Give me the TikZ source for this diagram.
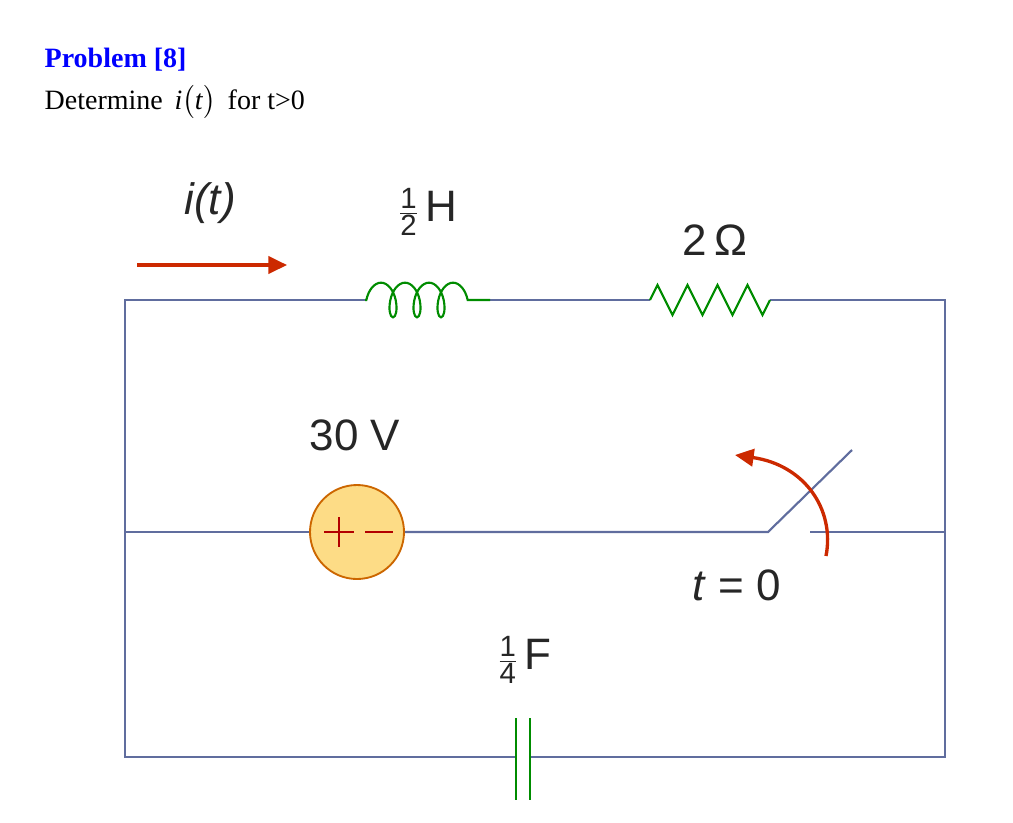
\documentclass[tikz,border=0pt]{standalone}
\usepackage{amsmath}
\usepackage{fontspec}
\setmainfont{Liberation Serif}
\setsansfont{Liberation Sans}
\usetikzlibrary{decorations.pathmorphing,arrows.meta}
\newcommand{\myfrac}[2]{$\genfrac{}{}{0.9pt}{1}{\mbox{\fontsize{22}{22}\selectfont\sffamily #1}}{\mbox{\fontsize{22}{22}\selectfont\sffamily #2}}$}
\begin{document}
\begin{tikzpicture}[x=0.75pt,y=-0.75pt,
  wire/.style={draw=black!30!cyan!40!blue!60!gray,line width=1.6pt},
  comp/.style={draw=green!55!black,line width=1.6pt},
  lbl/.style={font=\sffamily\fontsize{33}{38}\selectfont,text=black!85},
  redarr/.style={draw=red!60!orange!80!black,line width=2.5pt,-{Triangle[length=14pt,width=13pt]}}]
\useasboundingbox (0,0) rectangle (1013,822);
\node[anchor=base west,font=\bfseries\fontsize{21}{24}\selectfont,text=blue] (title) at (40,67) {Problem [8]};
\node[anchor=base west,font=\fontsize{21}{24}\selectfont] (det) at (40,109) {Determine \,\textit{i}$\bigl($\textit{t}$\bigr)$\, for t>0};
\coordinate (tl) at (125,300); \coordinate (tr) at (945,300);
\coordinate (bl) at (125,757); \coordinate (br) at (945,757);
\coordinate (ml) at (125,532); \coordinate (mr) at (945,532);
\coordinate (L1) at (365,300); \coordinate (L2) at (490,300);
\coordinate (R1) at (650,300); \coordinate (R2) at (770,300);
\coordinate (C1) at (516,757); \coordinate (C2) at (530,757);
\coordinate (sw) at (768,532); \coordinate (swt) at (852,450); \coordinate (sr) at (810,532);
\node[circle,draw=orange!80!black,fill=yellow!45!orange!45,line width=1.4pt,minimum size=70.5pt,inner sep=0] (V) at (357,532) {};
\draw[wire] (L1) -- (tl) -- (bl) -- (C1);
\draw[wire] (C2) -- (br) -- (tr) -- (R2);
\draw[wire] (L2) -- (R1);
\draw[wire] (ml) -- (V.west);
\draw[wire] (V.east) -- (sw) -- (swt);
\draw[wire] (sr) -- (mr);
\draw[comp,decorate,decoration={coil,aspect=0.5,segment length=18pt,amplitude=13pt,pre length=1pt,post length=1pt}] (L1) -- (L2);
\draw[comp,decorate,decoration={zigzag,segment length=22.5pt,amplitude=11.25pt}] (R1) -- (R2);
\draw[comp] (516,718) -- (516,800) (530,718) -- (530,800);
\draw[red!70!black,line width=1.3pt] (V.center) ++(-33,0) -- ++(30,0) ++(-15,-15) -- ++(0,30);
\draw[red!70!black,line width=1.3pt] (V.center) ++(8,0) -- ++(28,0);
\draw[redarr] (137,265) -- (287,265);
\draw[redarr] (826,556) .. controls (835,510) and (805,465) .. (735,455);
\node[lbl,font=\sffamily\itshape\fontsize{33}{38}\selectfont] (it) at (210,203) {i(t)};
\node[lbl] (Lh) at (428,212) {\myfrac{1}{2}\,H};
\node[lbl] (Rl) at (715,240) {2\,Ω};
\node[lbl] (Vl) at (355,435) {30 V};
\node[lbl] (tz) at (737,585) {\textit{t} = 0};
\node[lbl] (Cl) at (525,660) {\myfrac{1}{4}\,F};
\end{tikzpicture}
\end{document}
